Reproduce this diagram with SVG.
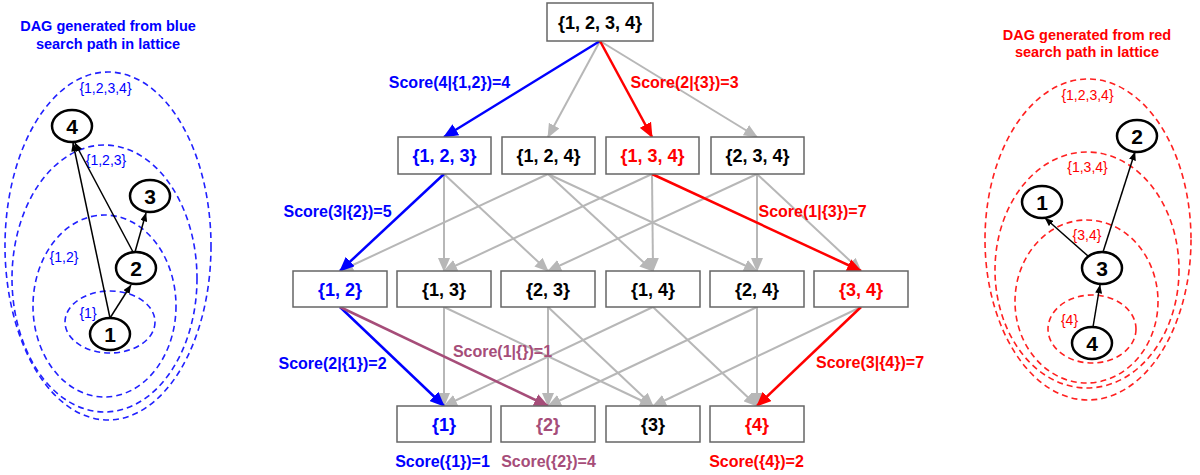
<svg xmlns="http://www.w3.org/2000/svg" width="1200" height="475" viewBox="0 0 1200 475">
<style>
.box{fill:#fff;stroke:#666;stroke-width:1.5}
.bt{font-family:"Liberation Sans",Arial,sans-serif;font-weight:bold;font-size:18px;text-anchor:middle}
.sc{font-family:"Liberation Sans",Arial,sans-serif;font-weight:bold;font-size:16px;text-anchor:middle}
.ttl{font-family:"Liberation Sans",Arial,sans-serif;font-weight:bold;font-size:14.5px;text-anchor:middle}
.lab{font-family:"Liberation Sans",Arial,sans-serif;font-size:14px;text-anchor:middle}
.num{font-family:"Liberation Sans",Arial,sans-serif;font-weight:bold;font-size:21px;text-anchor:middle;fill:#000}
.g{stroke:#b7b7b7;stroke-width:2;fill:none;marker-end:url(#mg)}
.b{stroke:#0000ff;stroke-width:2.5;fill:none;marker-end:url(#mb)}
.r{stroke:#ff0000;stroke-width:2.5;fill:none;marker-end:url(#mr)}
.p{stroke:#a64d79;stroke-width:2.5;fill:none;marker-end:url(#mp)}
.k{stroke:#000;stroke-width:1.5;fill:none;marker-end:url(#mk)}
.node{fill:#fff;stroke:#000;stroke-width:2.5}
.dB{fill:none;stroke:#2020ff;stroke-width:1.6;stroke-dasharray:6 4}
.dR{fill:none;stroke:#ff2020;stroke-width:1.6;stroke-dasharray:6 4}
.cb{fill:#0000ff}.cr{fill:#ff0000}.cp{fill:#a64d79}.ck{fill:#000}
</style>
<defs>
<marker id="mg" viewBox="0 0 14 12" refX="13" refY="6" markerWidth="14" markerHeight="12" markerUnits="userSpaceOnUse" orient="auto"><path d="M0,0 L14,6 L0,12 z" fill="#b7b7b7"/></marker>
<marker id="mb" viewBox="0 0 14 12" refX="13" refY="6" markerWidth="15" markerHeight="13" markerUnits="userSpaceOnUse" orient="auto"><path d="M0,0 L14,6 L0,12 z" fill="#0000ff"/></marker>
<marker id="mr" viewBox="0 0 14 12" refX="13" refY="6" markerWidth="15" markerHeight="13" markerUnits="userSpaceOnUse" orient="auto"><path d="M0,0 L14,6 L0,12 z" fill="#ff0000"/></marker>
<marker id="mp" viewBox="0 0 14 12" refX="13" refY="6" markerWidth="15" markerHeight="13" markerUnits="userSpaceOnUse" orient="auto"><path d="M0,0 L14,6 L0,12 z" fill="#a64d79"/></marker>
<marker id="mk" viewBox="0 0 10 8" refX="9.5" refY="4" markerWidth="9" markerHeight="7" markerUnits="userSpaceOnUse" orient="auto"><path d="M0,0 L10,4 L0,8 z" fill="#000"/></marker>
</defs>
<rect width="1200" height="475" fill="#fff"/>

<g id="left-panel">
<text class="ttl cb" x="108" y="31">DAG generated from blue</text>
<text class="ttl cb" x="108" y="49">search path in lattice</text>
<ellipse class="dB" cx="108" cy="246" rx="103" ry="174"/>
<ellipse class="dB" cx="104.5" cy="278.5" rx="92.5" ry="133.5"/>
<ellipse class="dB" cx="104.5" cy="306" rx="71.5" ry="91"/>
<ellipse class="dB" cx="110" cy="322" rx="45" ry="31"/>
<text class="lab cb" x="105.5" y="93">{1,2,3,4}</text>
<text class="lab cb" x="106" y="165">{1,2,3}</text>
<text class="lab cb" x="64" y="262">{1,2}</text>
<text class="lab cb" x="88" y="318">{1}</text>
</g>
<g id="left-dag-edges">
<line class="k" x1="110" y1="318" x2="131" y2="285"/>
<line class="k" x1="110" y1="318" x2="73" y2="143"/>
<line class="k" x1="133" y1="252" x2="75" y2="143"/>
<line class="k" x1="135" y1="252" x2="146" y2="213"/>
</g>
<g id="L4"><ellipse class="node" cx="72" cy="126" rx="20" ry="16"/><text class="num" x="72" y="133.5">4</text></g>
<g id="L3"><ellipse class="node" cx="150" cy="196" rx="20" ry="16"/><text class="num" x="150" y="203.5">3</text></g>
<g id="L2"><ellipse class="node" cx="136" cy="268" rx="20" ry="16"/><text class="num" x="136" y="275.5">2</text></g>
<g id="L1"><ellipse class="node" cx="110" cy="334" rx="20" ry="16"/><text class="num" x="110" y="341.5">1</text></g>

<g id="right-panel">
<text class="ttl cr" x="1087" y="40">DAG generated from red</text>
<text class="ttl cr" x="1087" y="57">search path in lattice</text>
<ellipse class="dR" cx="1088" cy="239.5" rx="103" ry="160.5"/>
<ellipse class="dR" cx="1087" cy="270" rx="92" ry="118"/>
<ellipse class="dR" cx="1086.5" cy="301.5" rx="71.5" ry="81.5"/>
<ellipse class="dR" cx="1092" cy="329" rx="44" ry="34"/>
<text class="lab cr" x="1087.5" y="100">{1,2,3,4}</text>
<text class="lab cr" x="1087.5" y="172">{1,3,4}</text>
<text class="lab cr" x="1087" y="240">{3,4}</text>
<text class="lab cr" x="1069.5" y="325">{4}</text>
</g>
<g id="right-dag-edges">
<line class="k" x1="1093" y1="327" x2="1100" y2="285"/>
<line class="k" x1="1088" y1="256" x2="1045" y2="218"/>
<line class="k" x1="1103" y1="252" x2="1135" y2="152"/>
</g>
<g id="R2"><ellipse class="node" cx="1137" cy="136" rx="20" ry="16"/><text class="num" x="1137" y="143.5">2</text></g>
<g id="R1"><ellipse class="node" cx="1042" cy="202" rx="20" ry="16"/><text class="num" x="1042" y="209.5">1</text></g>
<g id="R3"><ellipse class="node" cx="1102" cy="268" rx="20" ry="16"/><text class="num" x="1102" y="275.5">3</text></g>
<g id="R4"><ellipse class="node" cx="1092" cy="343" rx="20" ry="16"/><text class="num" x="1092" y="350.5">4</text></g>

<g id="lattice-connectors">
<line class="g" x1="600" y1="41" x2="548" y2="137"/>
<line class="g" x1="600" y1="41" x2="757" y2="137"/>
<line class="g" x1="444" y1="174" x2="444" y2="271"/>
<line class="g" x1="444" y1="174" x2="548" y2="271"/>
<line class="g" x1="548" y1="174" x2="340" y2="271"/>
<line class="g" x1="548" y1="174" x2="653" y2="271"/>
<line class="g" x1="548" y1="174" x2="757" y2="271"/>
<line class="g" x1="652" y1="174" x2="444" y2="271"/>
<line class="g" x1="652" y1="174" x2="653" y2="271"/>
<line class="g" x1="757" y1="174" x2="548" y2="271"/>
<line class="g" x1="757" y1="174" x2="757" y2="271"/>
<line class="g" x1="757" y1="174" x2="861" y2="271"/>
<line class="g" x1="444" y1="307" x2="444" y2="406"/>
<line class="g" x1="444" y1="307" x2="653" y2="406"/>
<line class="g" x1="548" y1="307" x2="548" y2="406"/>
<line class="g" x1="548" y1="307" x2="653" y2="406"/>
<line class="g" x1="653" y1="307" x2="444" y2="406"/>
<line class="g" x1="653" y1="307" x2="757" y2="406"/>
<line class="g" x1="757" y1="307" x2="548" y2="406"/>
<line class="g" x1="757" y1="307" x2="757" y2="406"/>
<line class="g" x1="861" y1="307" x2="653" y2="406"/>
<line class="b" x1="600" y1="41" x2="444" y2="137"/>
<line class="r" x1="600" y1="41" x2="652" y2="137"/>
<line class="b" x1="444" y1="174" x2="340" y2="271"/>
<line class="r" x1="652" y1="174" x2="861" y2="271"/>
<line class="b" x1="340" y1="307" x2="444" y2="406"/>
<line class="p" x1="340" y1="307" x2="548" y2="406"/>
<line class="r" x1="861" y1="307" x2="757" y2="406"/>
</g>

<g id="n1234"><rect class="box" x="547" y="3" width="106" height="38"/><text class="bt ck" x="600" y="28.5">{1, 2, 3, 4}</text></g>
<g id="n123"><rect class="box" x="398" y="137" width="93" height="37"/><text class="bt cb" x="444.5" y="162">{1, 2, 3}</text></g>
<g id="n124"><rect class="box" x="502" y="137" width="93" height="37"/><text class="bt ck" x="548.5" y="162">{1, 2, 4}</text></g>
<g id="n134"><rect class="box" x="606" y="137" width="93" height="37"/><text class="bt cr" x="652.5" y="162">{1, 3, 4}</text></g>
<g id="n234"><rect class="box" x="711" y="137" width="93" height="37"/><text class="bt ck" x="757.5" y="162">{2, 3, 4}</text></g>
<g id="n12"><rect class="box" x="293" y="271" width="94" height="36"/><text class="bt cb" x="340" y="295.5">{1, 2}</text></g>
<g id="n13"><rect class="box" x="397" y="271" width="94" height="36"/><text class="bt ck" x="444" y="295.5">{1, 3}</text></g>
<g id="n23"><rect class="box" x="501" y="271" width="94" height="36"/><text class="bt ck" x="548" y="295.5">{2, 3}</text></g>
<g id="n14"><rect class="box" x="606" y="271" width="94" height="36"/><text class="bt ck" x="653" y="295.5">{1, 4}</text></g>
<g id="n24"><rect class="box" x="710" y="271" width="94" height="36"/><text class="bt ck" x="757" y="295.5">{2, 4}</text></g>
<g id="n34"><rect class="box" x="814" y="271" width="94" height="36"/><text class="bt cr" x="861" y="295.5">{3, 4}</text></g>
<g id="n1"><rect class="box" x="397" y="406" width="94" height="36"/><text class="bt cb" x="444" y="430.5">{1}</text></g>
<g id="n2"><rect class="box" x="501" y="406" width="94" height="36"/><text class="bt cp" x="548" y="430.5">{2}</text></g>
<g id="n3"><rect class="box" x="606" y="406" width="94" height="36"/><text class="bt ck" x="653" y="430.5">{3}</text></g>
<g id="n4"><rect class="box" x="710" y="406" width="94" height="36"/><text class="bt cr" x="757" y="430.5">{4}</text></g>

<g id="score-labels">
<text class="sc cb" x="449.5" y="88">Score(4|{1,2})=4</text>
<text class="sc cr" x="684.5" y="88">Score(2|{3})=3</text>
<text class="sc cb" x="337.5" y="217">Score(3|{2})=5</text>
<text class="sc cr" x="812.5" y="217">Score(1|{3})=7</text>
<text class="sc cb" x="332.5" y="369">Score(2|{1})=2</text>
<text class="sc cp" x="502.5" y="357">Score(1|{})=1</text>
<text class="sc cr" x="870" y="368">Score(3|{4})=7</text>
<text class="sc cb" x="442.5" y="467">Score({1})=1</text>
<text class="sc cp" x="548.5" y="467">Score({2})=4</text>
<text class="sc cr" x="756.5" y="467">Score({4})=2</text>
</g>
</svg>
